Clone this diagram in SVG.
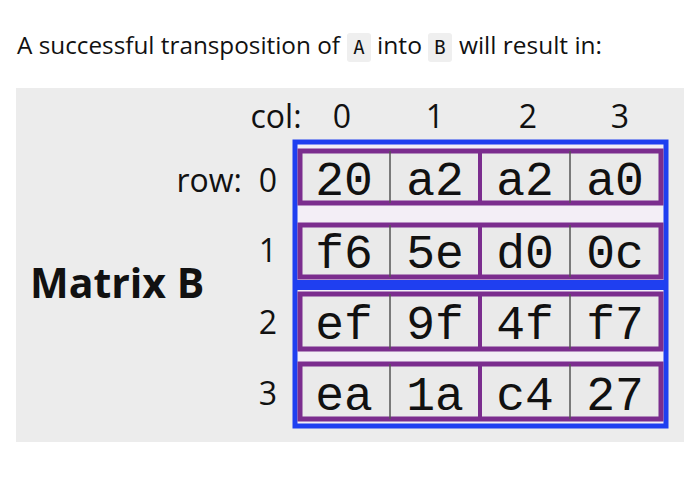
<svg xmlns="http://www.w3.org/2000/svg" width="700" height="487" viewBox="0 0 700 487">
<style>
.t{font-family:"Open Sans","Liberation Sans",sans-serif;fill:#111}
.c{font-family:"Liberation Mono","DejaVu Sans Mono",monospace;font-size:48px;fill:#111;text-anchor:middle}
.row{fill:#eaeaea;stroke:#7b2d8e;stroke-width:5}
.div{stroke:#555;stroke-width:1.5}
.lbl{font-family:"Open Sans","Liberation Sans",sans-serif;font-size:32px;fill:#111;text-anchor:middle}
</style>
<rect width="700" height="487" fill="#fff"/>
<g id="title">
<rect x="347" y="33" width="24" height="29" rx="3" fill="#efefef"/>
<rect x="428" y="33" width="24" height="29" rx="3" fill="#efefef"/>
<text class="t" x="17" y="54" font-size="23.5" textLength="323" lengthAdjust="spacingAndGlyphs">A successful transposition of</text>
<text x="359" y="54" font-size="19" text-anchor="middle" font-family="DejaVu Sans Mono,monospace" fill="#111">A</text>
<text class="t" x="377" y="54" font-size="23.5" textLength="45" lengthAdjust="spacingAndGlyphs">into</text>
<text x="440" y="54" font-size="19" text-anchor="middle" font-family="DejaVu Sans Mono,monospace" fill="#111">B</text>
<text class="t" x="459" y="54" font-size="23.5" textLength="143" lengthAdjust="spacingAndGlyphs">will result in:</text>
</g>
<rect x="16" y="88" width="668" height="354" fill="#ececec"/>
<g id="labels">
<text class="lbl" x="276" y="128">col:</text>
<text class="lbl" x="342" y="128">0</text>
<text class="lbl" x="435" y="128">1</text>
<text class="lbl" x="528" y="128">2</text>
<text class="lbl" x="620" y="128">3</text>
<text class="lbl" x="242" y="192" style="text-anchor:end">row:</text>
<text class="lbl" x="268" y="192">0</text>
<text class="lbl" x="268" y="262">1</text>
<text class="lbl" x="268" y="334">2</text>
<text class="lbl" x="268" y="405">3</text>
<text x="30" y="298" font-family="Open Sans,Liberation Sans,sans-serif" font-weight="bold" font-size="41" fill="#111">Matrix B</text>
</g>
<g id="matrix">
<rect x="295" y="142" width="371" height="284" fill="#f3eef6" stroke="#1f3ff0" stroke-width="5"/>
<rect x="293" y="280" width="375" height="10" fill="#1f3ff0"/>
<g id="row0"><rect class="row" x="300" y="151" width="361" height="52"/>
<line class="div" x1="390" y1="151" x2="390" y2="203"/><line x1="480" y1="151" x2="480" y2="203" stroke="#7b2d8e" stroke-width="4"/><line class="div" x1="570" y1="151" x2="570" y2="203"/>
<text class="c" x="344" y="195">20</text><text class="c" x="435" y="195">a2</text><text class="c" x="525" y="195">a2</text><text class="c" x="615" y="195">a0</text></g>
<g id="row1"><rect class="row" x="300" y="225" width="361" height="52"/>
<line class="div" x1="390" y1="225" x2="390" y2="277"/><line x1="480" y1="225" x2="480" y2="277" stroke="#7b2d8e" stroke-width="4"/><line class="div" x1="570" y1="225" x2="570" y2="277"/>
<text class="c" x="344" y="268">f6</text><text class="c" x="435" y="268">5e</text><text class="c" x="525" y="268">d0</text><text class="c" x="615" y="268">0c</text></g>
<g id="row2"><rect class="row" x="300" y="294" width="361" height="55"/>
<line class="div" x1="390" y1="294" x2="390" y2="349"/><line x1="480" y1="294" x2="480" y2="349" stroke="#7b2d8e" stroke-width="4"/><line class="div" x1="570" y1="294" x2="570" y2="349"/>
<text class="c" x="344" y="339">ef</text><text class="c" x="435" y="339">9f</text><text class="c" x="525" y="339">4f</text><text class="c" x="615" y="339">f7</text></g>
<g id="row3"><rect class="row" x="300" y="364" width="361" height="55"/>
<line class="div" x1="390" y1="364" x2="390" y2="419"/><line x1="480" y1="364" x2="480" y2="419" stroke="#7b2d8e" stroke-width="4"/><line class="div" x1="570" y1="364" x2="570" y2="419"/>
<text class="c" x="344" y="410">ea</text><text class="c" x="435" y="410">1a</text><text class="c" x="525" y="410">c4</text><text class="c" x="615" y="410">27</text></g>
</g>
<g id="connectors"/>
</svg>
